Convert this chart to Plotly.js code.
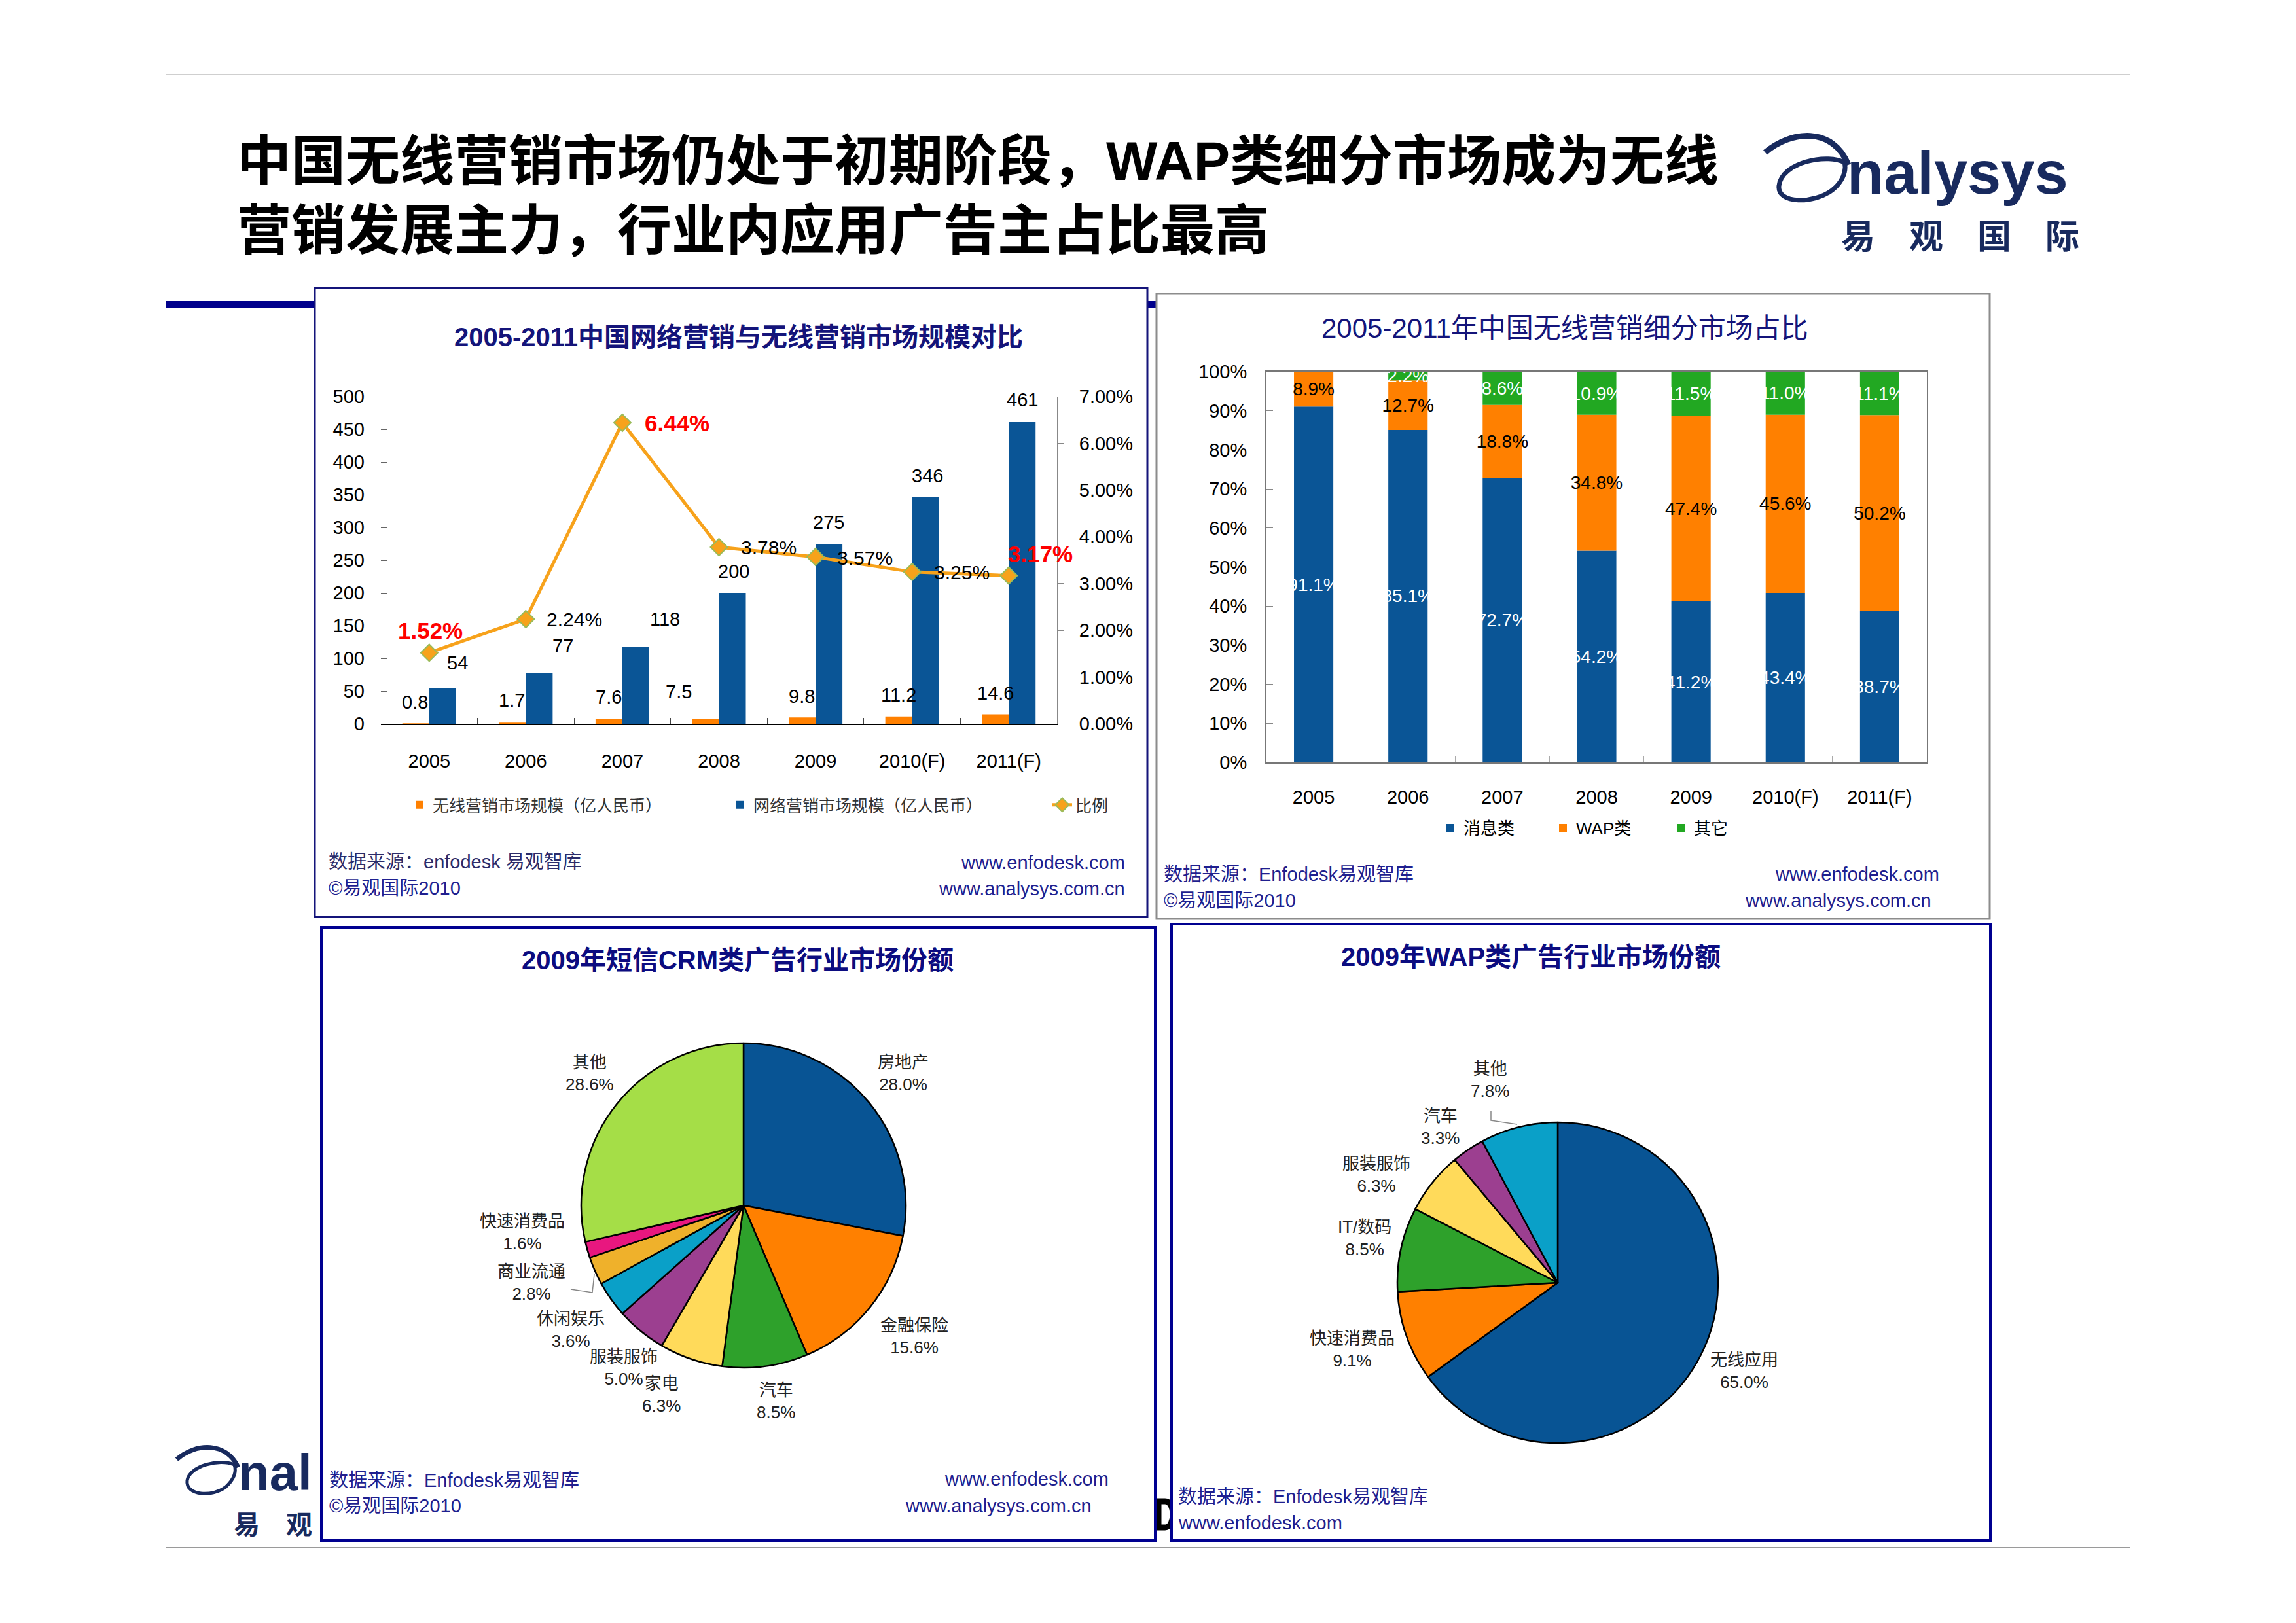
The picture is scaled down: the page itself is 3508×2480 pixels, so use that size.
<!DOCTYPE html>
<html>
<head>
<meta charset="utf-8">
<script src="https://cdn.plot.ly/plotly-3.0.1.min.js"></script>
<style>
html,body{margin:0;padding:0;background:#fff;overflow:hidden;}
#chart{width:3508px;height:2480px;}
</style>
</head>
<body>
<div id="chart"></div>
<script>
// ---------------- DATA ----------------
const years = ['2005','2006','2007','2008','2009','2010(F)','2011(F)'];
const wirelessMarket = [0.8, 1.7, 7.6, 7.5, 9.8, 11.2, 14.6];      // 无线营销市场规模（亿人民币）
const onlineMarket   = [54, 77, 118, 200, 275, 346, 461];           // 网络营销市场规模（亿人民币）
const wirelessRatio  = [1.52, 2.24, 6.44, 3.78, 3.57, 3.25, 3.17];  // 比例 (%)

const msgShare   = [91.1, 85.1, 72.7, 54.2, 41.2, 43.4, 38.7];  // 消息类
const wapShare   = [8.9, 12.7, 18.8, 34.8, 47.4, 45.6, 50.2];   // WAP类
const otherShare = [0, 2.2, 8.6, 10.9, 11.5, 11.0, 11.1];       // 其它

const smsLabels = ['房地产','金融保险','汽车','家电','服装服饰','休闲娱乐','商业流通','快速消费品','其他'];
const smsValues = [28.0, 15.6, 8.5, 6.3, 5.0, 3.6, 2.8, 1.6, 28.6];

const wapLabels = ['无线应用','快速消费品','IT/数码','服装服饰','汽车','其他'];
const wapValues = [65.0, 9.1, 8.5, 6.3, 3.3, 7.8];

// ---------------- STYLE / LAYOUT HELPERS ----------------
const W = 3508, H = 2480;
const px = x => x / W;
const py = y => 1 - y / H;
const pt = (x, y) => px(x).toFixed(5) + ',' + py(y).toFixed(5);
const FONT = 'Liberation Sans, Arial, Noto Sans CJK SC, sans-serif';
const NAVY = '#14147A';
const FOOT = '#1f1f8f';
const LOGO = '#182A5E';

const C_BLUE = '#0A5596', C_ORANGE = '#FF8000', C_GREEN = '#22A822';
const smsColors = ['#085494','#FF8000','#2EA12B','#FFDA5A','#9C3F90','#0AA0C8','#EFB12B','#E8177F','#A5DE47'];
const wapColors = ['#085494','#FF8000','#2EA12B','#FFDA5A','#9C3F90','#0AA0C8'];

// label offsets (pixels) for top-left chart
const onlineDx = [43, 57, 65, 22, 20, 23, 21];
const onlineDy = [39, 42, 42, 33, 33, 33, 34];
const wirelessDx = [-22, -21, -21, -62, -21, -21, -20];
const wirelessDy = [32, 34, 33, 42, 32, 33, 32];
const ratioDx = [2, 74, 84, 76, 75, 76, 48];
const ratioDy = [34, 0, 0, 0, -1, -1, 33];
const ratioRed = [true, false, true, false, false, false, true];

// pie label centres (pixels)
const smsLabelPos = [[1380,1640],[1397,2042],[1185,2141],[1010,2131],[953,2090],[872,2032],[812,1960],[798,1883],[901,1640]];
const wapLabelPos = [[2665,2095],[2066,2062],[2085,1892],[2103,1795],[2200,1722],[2276,1650]];

// ---------------- TRACES ----------------
const pctText = v => v > 0 ? v.toFixed(1) + '%' : '';
const wapBase = msgShare.slice();
const otherBase = msgShare.map((v, i) => v + wapShare[i]);

const traces = [
  {type:'bar', x:years, y:wirelessMarket, xaxis:'x', yaxis:'y', name:'无线营销市场规模（亿人民币）',
   marker:{color:C_ORANGE}, legend:'legend', legendwidth:445, hoverinfo:'skip'},
  {type:'bar', x:years, y:onlineMarket, xaxis:'x', yaxis:'y', name:'网络营销市场规模（亿人民币）',
   marker:{color:C_BLUE}, legend:'legend', legendwidth:447, hoverinfo:'skip'},
  {type:'scatter', mode:'lines+markers', x:years, y:wirelessRatio, xaxis:'x', yaxis:'y2', name:'比例',
   line:{color:'#F7A21B', width:5},
   marker:{symbol:'diamond', size:20, color:'#F7A21B', line:{color:'#9BBB59', width:2}},
   cliponaxis:false, legend:'legend', hoverinfo:'skip'},

  {type:'bar', x:years, y:msgShare, xaxis:'x2', yaxis:'y3', offsetgroup:'s', width:0.417, name:'消息类',
   marker:{color:C_BLUE}, text:msgShare.map(pctText), textposition:'inside', insidetextanchor:'middle',
   textangle:0, constraintext:'none', textfont:{color:'#ffffff', size:28, family:FONT},
   legend:'legend2', legendwidth:127, hoverinfo:'skip'},
  {type:'bar', x:years, y:wapShare, base:wapBase, xaxis:'x2', yaxis:'y3', offsetgroup:'s', width:0.417, name:'WAP类',
   marker:{color:C_ORANGE}, text:wapShare.map(pctText), textposition:'inside', insidetextanchor:'middle',
   textangle:0, constraintext:'none', textfont:{color:'#000000', size:28, family:FONT},
   legend:'legend2', legendwidth:135, hoverinfo:'skip'},
  {type:'bar', x:years, y:otherShare, base:otherBase, xaxis:'x2', yaxis:'y3', offsetgroup:'s', width:0.417, name:'其它',
   marker:{color:C_GREEN}, text:otherShare.map(pctText), textposition:'inside', insidetextanchor:'middle',
   textangle:0, constraintext:'none', textfont:{color:'#ffffff', size:28, family:FONT},
   legend:'legend2', hoverinfo:'skip'},

  {type:'pie', labels:smsLabels, values:smsValues, sort:false, direction:'clockwise', rotation:0,
   marker:{colors:smsColors, line:{color:'#000', width:2.5}}, textinfo:'none', showlegend:false,
   domain:{x:[px(888), px(1384)], y:[py(2091), py(1593)]}, hoverinfo:'skip'},
  {type:'pie', labels:wapLabels, values:wapValues, sort:false, direction:'clockwise', rotation:0,
   marker:{colors:wapColors, line:{color:'#000', width:2.5}}, textinfo:'none', showlegend:false,
   domain:{x:[px(2135), px(2625)], y:[py(2209), py(1711)]}, hoverinfo:'skip'}
];

// ---------------- ANNOTATIONS ----------------
const ann = [];
function txt(x, y, text, size, color, anchor, extra) {
  const a = {xref:'paper', yref:'paper', x:px(x), y:py(y), text:text, showarrow:false,
    xanchor:anchor || 'center', yanchor:'middle', font:{size:size, color:color, family:FONT}};
  return Object.assign(a, extra || {});
}
// main title
ann.push(txt(360, 246, '<b>中国无线营销市场仍处于初期阶段，WAP类细分市场成为无线</b>', 83, '#000', 'left'));
ann.push(txt(360, 352, '<b>营销发展主力，行业内应用广告主占比最高</b>', 83, '#000', 'left'));
// logo top-right
ann.push(txt(2820, 264, '<b>nalysys</b>', 92, LOGO, 'left'));
ann.push(txt(2811, 362, '<b>易　观　国　际</b>', 52, LOGO, 'left'));
// logo bottom-left (partly hidden)
ann.push(txt(362, 2250, '<b>nal</b>', 78, LOGO, 'left'));
ann.push(txt(355, 2330, '<b>易　观</b>', 40, LOGO, 'left'));

// chart titles
ann.push(txt(1128, 515, '<b>2005-2011中国网络营销与无线营销市场规模对比</b>', 40, NAVY));
ann.push(txt(2391, 502, '2005-2011年中国无线营销细分市场占比', 42, NAVY));
ann.push(txt(1127, 1467, '<b>2009年短信CRM类广告行业市场份额</b>', 40, '#0c0c80'));
ann.push(txt(2339, 1462, '<b>2009年WAP类广告行业市场份额</b>', 40, '#0c0c80'));

// footers
ann.push(txt(500, 1317, '数据来源：enfodesk 易观智库', 29, '#2b2b6a', 'left'));
ann.push(txt(500, 1357, '©易观国际2010', 29, FOOT, 'left'));
ann.push(txt(1721, 1318, 'www.enfodesk.com', 29, FOOT, 'right'));
ann.push(txt(1721, 1358, 'www.analysys.com.cn', 29, FOOT, 'right'));

ann.push(txt(1776, 1336, '数据来源：Enfodesk易观智库', 29, FOOT, 'left'));
ann.push(txt(1776, 1376, '©易观国际2010', 29, FOOT, 'left'));
ann.push(txt(2965, 1336, 'www.enfodesk.com', 29, FOOT, 'right'));
ann.push(txt(2953, 1376, 'www.analysys.com.cn', 29, FOOT, 'right'));

ann.push(txt(501, 2262, '数据来源：Enfodesk易观智库', 29, FOOT, 'left'));
ann.push(txt(501, 2301, '©易观国际2010', 29, FOOT, 'left'));
ann.push(txt(1696, 2260, 'www.enfodesk.com', 29, FOOT, 'right'));
ann.push(txt(1670, 2301, 'www.analysys.com.cn', 29, FOOT, 'right'));

ann.push(txt(1798, 2287, '数据来源：Enfodesk易观智库', 29, FOOT, 'left'));
ann.push(txt(1798, 2327, 'www.enfodesk.com', 29, FOOT, 'left'));

// bar & line labels of top-left chart (anchored to category index and data value)
years.forEach((yr, i) => {
  ann.push({xref:'x', yref:'y', x:i, y:onlineMarket[i], text:String(onlineMarket[i]), showarrow:false,
    xanchor:'center', yanchor:'middle', xshift:onlineDx[i], yshift:onlineDy[i],
    font:{size:29, color:'#000', family:FONT}});
  ann.push({xref:'x', yref:'y', x:i, y:wirelessMarket[i], text:wirelessMarket[i].toFixed(1), showarrow:false,
    xanchor:'center', yanchor:'middle', xshift:wirelessDx[i], yshift:wirelessDy[i],
    font:{size:29, color:'#000', family:FONT}});
  const red = ratioRed[i];
  ann.push({xref:'x', yref:'y2', x:i, y:wirelessRatio[i],
    text: red ? '<b>' + wirelessRatio[i].toFixed(2) + '%</b>' : wirelessRatio[i].toFixed(2) + '%',
    showarrow:false, xanchor:'center', yanchor:'middle', xshift:ratioDx[i], yshift:ratioDy[i],
    font:{size: red ? 35 : 30, color: red ? '#FF0000' : '#000', family:FONT}});
});

// pie labels
smsLabels.forEach((lab, i) => {
  ann.push(txt(smsLabelPos[i][0], smsLabelPos[i][1], lab + '<br>' + smsValues[i].toFixed(1) + '%', 26, '#222'));
});
wapLabels.forEach((lab, i) => {
  ann.push(txt(wapLabelPos[i][0], wapLabelPos[i][1], lab + '<br>' + wapValues[i].toFixed(1) + '%', 26, '#222'));
});

// ---------------- SHAPES ----------------
const shapes = [];
const base = {xref:'paper', yref:'paper', layer:'below'};
function line(x0, y0, x1, y1, color, width) {
  return Object.assign({type:'line', x0:px(x0), y0:py(y0), x1:px(x1), y1:py(y1), line:{color:color, width:width}}, base);
}
function rect(x0, y0, x1, y1, fill, lc, lw) {
  return Object.assign({type:'rect', x0:px(x0), y0:py(y0), x1:px(x1), y1:py(y1), fillcolor:fill, line:{color:lc, width:lw}}, base);
}
function path(d, color, width, fill) {
  return Object.assign({type:'path', path:d, line:{color:color, width:width}, fillcolor:fill || 'rgba(0,0,0,0)'}, base);
}
shapes.push(line(253, 114, 3255, 114, '#cfcfcf', 2));
shapes.push(line(253, 2365, 3255, 2365, '#9a9a9a', 2));
shapes.push(rect(254, 460, 1766, 471, '#00008C', '#00008C', 0));
// top-right logo swoosh
shapes.push(path('M ' + pt(2697,233) + ' C ' + pt(2735,200) + ' ' + pt(2800,192) + ' ' + pt(2824,252), LOGO, 9));
shapes.push(path('M ' + pt(2818,248) + ' C ' + pt(2790,234) + ' ' + pt(2722,248) + ' ' + pt(2718,284) +
  ' C ' + pt(2715,312) + ' ' + pt(2772,312) + ' ' + pt(2800,290) +
  ' C ' + pt(2814,279) + ' ' + pt(2822,262) + ' ' + pt(2818,248), LOGO, 7));
// bottom-left logo swoosh
shapes.push(path('M ' + pt(270,2230) + ' C ' + pt(300,2204) + ' ' + pt(345,2203) + ' ' + pt(364,2242), LOGO, 7));
shapes.push(path('M ' + pt(358,2238) + ' C ' + pt(335,2228) + ' ' + pt(290,2240) + ' ' + pt(286,2262) +
  ' C ' + pt(283,2286) + ' ' + pt(325,2288) + ' ' + pt(345,2272) +
  ' C ' + pt(356,2262) + ' ' + pt(362,2250) + ' ' + pt(358,2238), LOGO, 5));
// fragment of a background letter between the lower panels
shapes.push(path('M ' + pt(1770,2294) + ' L ' + pt(1770,2334) + ' L ' + pt(1780,2334) +
  ' C ' + pt(1796,2334) + ' ' + pt(1796,2294) + ' ' + pt(1780,2294) + ' Z', '#000', 9));
// panels
shapes.push(rect(481, 440, 1753, 1401, '#ffffff', '#14147A', 3));
shapes.push(rect(1767, 449, 3040, 1404, '#ffffff', '#8c8c8c', 3));
shapes.push(rect(491, 1417, 1765, 2354, '#ffffff', '#000090', 4));
shapes.push(rect(1790, 1412, 3041, 2354, '#ffffff', '#000090', 4));
// leader lines
shapes.push(path('M ' + pt(2278,1697) + ' L ' + pt(2278,1712) + ' L ' + pt(2318,1718), '#888', 1.5));
shapes.push(path('M ' + pt(872,1970) + ' L ' + pt(905,1975) + ' L ' + pt(908,1947), '#888', 1.5));

// ---------------- LAYOUT ----------------
const tick = {size:29, color:'#000', family:FONT};
const layout = {
  width:W, height:H, margin:{l:0, r:0, t:0, b:0, pad:0},
  paper_bgcolor:'#ffffff', plot_bgcolor:'rgba(0,0,0,0)',
  font:{family:FONT, color:'#000'},
  barmode:'group', bargap:0.444, bargroupgap:0,
  hovermode:false,
  xaxis:{domain:[px(582), px(1615)], anchor:'y', type:'category', range:[-0.5, 6.5],
    showline:true, linecolor:'#000', linewidth:2, ticks:'inside', tickson:'boundaries', ticklen:9,
    tickcolor:'#444', tickfont:tick, ticklabelstandoff:30, showgrid:false, zeroline:false},
  yaxis:{domain:[py(1106), py(606)], anchor:'x', range:[0, 500], dtick:50, showline:false,
    ticks:'inside', ticklen:9, tickcolor:'#666', tickfont:tick, ticklabelstandoff:24,
    showgrid:false, zeroline:false},
  yaxis2:{overlaying:'y', anchor:'x', side:'right', range:[0, 7], dtick:1, tickformat:'.2f', ticksuffix:'%',
    showline:true, linecolor:'#888', linewidth:2, ticks:'outside', ticklen:8, tickcolor:'#888',
    tickfont:tick, ticklabelstandoff:18, showgrid:false, zeroline:false},
  xaxis2:{domain:[px(1935), px(2944)], anchor:'y3', type:'category', range:[-0.5, 6.5],
    showline:true, mirror:true, linecolor:'#777', linewidth:2, ticks:'inside', tickson:'boundaries',
    ticklen:10, tickcolor:'#aaa', tickfont:tick, ticklabelstandoff:26, showgrid:false, zeroline:false},
  yaxis3:{domain:[py(1165), py(568)], anchor:'x2', range:[0, 100], dtick:10, ticksuffix:'%',
    showline:true, mirror:true, linecolor:'#777', linewidth:2, ticks:'inside', ticklen:10,
    tickcolor:'#888', tickfont:tick, ticklabelstandoff:22, showgrid:false, zeroline:false},
  legend:{orientation:'h', x:px(621), xanchor:'left', y:py(1230), yanchor:'middle',
    font:{size:25, color:'#333', family:FONT}, bgcolor:'rgba(0,0,0,0)', borderwidth:0},
  legend2:{orientation:'h', x:px(2196), xanchor:'left', y:py(1265), yanchor:'middle',
    font:{size:26, color:'#000', family:FONT}, bgcolor:'rgba(0,0,0,0)', borderwidth:0},
  annotations:ann,
  shapes:shapes
};

Plotly.newPlot('chart', traces, layout, {staticPlot:true, displayModeBar:false});
</script>
</body>
</html>
